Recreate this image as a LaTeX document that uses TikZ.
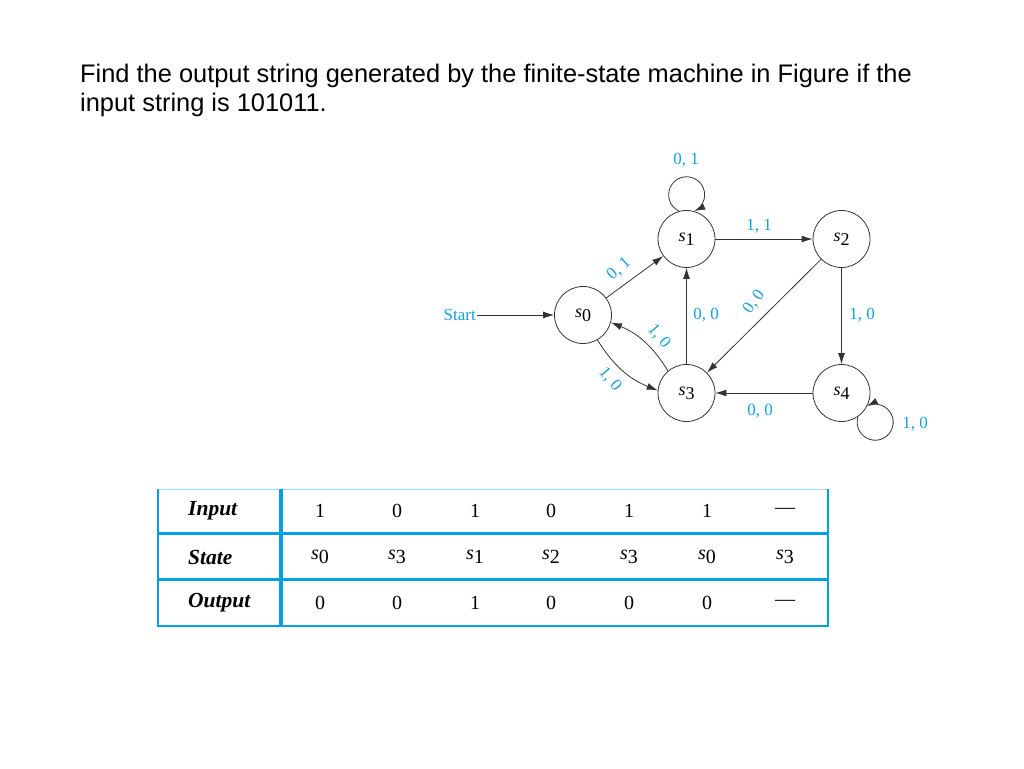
\documentclass[tikz,border=0pt]{standalone}
\usepackage{fontspec}
\setmainfont{Liberation Serif}
\newfontfamily\titlefont{Liberation Sans}
\usetikzlibrary{arrows.meta}
\definecolor{lblue}{RGB}{20,160,220}
\definecolor{tblue}{RGB}{0,160,230}
\newcommand{\stt}[1]{{\itshape s}\raisebox{-0.45ex}{#1}}
\tikzset{
  state/.style={circle,draw=black!80,line width=0.8pt,minimum size=57pt,inner sep=0pt,font=\fontsize{18}{20}\selectfont},
  elabel/.style={text=lblue,font=\fontsize{17}{19}\selectfont,inner sep=1pt},
  edge/.style={draw=black!80,line width=0.8pt,-{Latex[length=11pt,width=7pt]}},
  tline/.style={draw=tblue},
  tcell/.style={font=\fontsize{20}{22}\selectfont,inner sep=0pt},
  thead/.style={font=\fontsize{21.5}{23}\selectfont\bfseries\itshape,inner sep=0pt,anchor=west},
  ttext/.style={font=\titlefont\fontsize{25.4}{28}\selectfont,inner sep=0pt,anchor=base west}
}
\begin{document}
\begin{tikzpicture}[x=1pt,y=1pt]
\useasboundingbox (0,0) rectangle (1024,768);
% title
\node[ttext] (t1) at (80,685) {Find the output string generated by the finite-state machine in Figure if the};
\node[ttext] (t2) at (80,656) {input string is 101011.};
% states
\node[state] (s0) at (583,453) {\stt{0}};
\node[state] (s1) at (686.5,529) {\stt{1}};
\node[state] (s2) at (841.5,529) {\stt{2}};
\node[state] (s3) at (686.5,375) {\stt{3}};
\node[state] (s4) at (841.5,375) {\stt{4}};
\node[elabel,anchor=east] (start) at (477,453) {Start};
% edges
\draw[edge] (start) -- (s0);
\draw[edge] (s0) -- (s1);
\draw[edge] (s1) -- (s2);
\draw[edge] (s3) -- (s1);
\draw[edge] (s2) -- (s3);
\draw[edge] (s2) -- (s4);
\draw[edge] (s4) -- (s3);
\draw[edge] (s3.130) to[bend right=18] (s0.-15);
\draw[edge] (s0.-60) to[bend right=18] (s3.175);
\draw[edge] (s1.105) arc[start angle=245,end angle=-65,radius=18];
\draw[edge] (s4.-55) arc[start angle=162,end angle=477,radius=18];
% edge labels
\node[elabel] (l01) at (686,608) {0, 1};
\node[elabel] (l11) at (759,542) {1, 1};
\node[elabel,rotate=42] (l01b) at (619,499) {0, 1};
\node[elabel] (l00v) at (706,453) {0, 0};
\node[elabel,rotate=55] (l00d) at (754,466) {0, 0};
\node[elabel] (l10r) at (862,453) {1, 0};
\node[elabel,rotate=-50] (l10u) at (659,432) {1, 0};
\node[elabel,rotate=-50] (l10l) at (610,389) {1, 0};
\node[elabel] (l00b) at (760,357) {0, 0};
\node[elabel] (l10s) at (915,344) {1, 0};
% table
\draw[tline,line width=0.5pt,draw=tblue!40] (158,279) -- (828,279);
\draw[tline,line width=1.5pt] (158,279) -- (158,142);
\draw[tline,line width=3pt] (158,234) -- (828,234);
\draw[tline,line width=3pt] (158,188) -- (828,188);
\draw[tline,line width=2pt] (157.25,142) -- (829,142);
\draw[tline,line width=2.5pt] (828,279) -- (828,142);
\draw[tline,line width=3.5pt] (281,279) -- (281,142);
\node[thead] (hin) at (188,257) {Input};
\node[thead] (hst) at (188,211) {State};
\node[thead] (hout) at (188,165) {Output};
\foreach \x/\i/\s/\o [count=\k] in {320/1/0/0, 397/0/3/0, 475/1/1/1, 551/0/2/0, 629/1/3/0, 707/1/0/0, 785/---/3/---}{
  \node[tcell] (in\k) at (\x,257) {\i};
  \node[tcell] (st\k) at (\x,211) {\stt{\s}};
  \node[tcell] (out\k) at (\x,165) {\o};
}
\end{tikzpicture}
\end{document}
